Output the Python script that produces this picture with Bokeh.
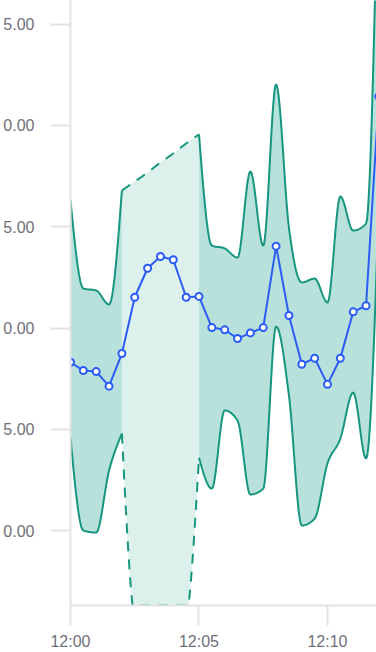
import numpy as np
from bokeh.plotting import figure
from bokeh.models import Range1d, FixedTicker
from bokeh.embed import file_html
from bokeh.resources import INLINE

# ---------------- data ----------------
times = ["12:00:00", "12:00:30", "12:01:00", "12:01:30", "12:02:00", "12:02:30",
         "12:03:00", "12:03:30", "12:04:00", "12:04:30", "12:05:00", "12:05:30",
         "12:06:00", "12:06:30", "12:07:00", "12:07:30", "12:08:00", "12:08:30",
         "12:09:00", "12:09:30", "12:10:00", "12:10:30", "12:11:00", "12:11:30",
         "12:12:00"]

mean = [18.31, 17.90, 17.85, 17.13, 18.74, 21.52, 22.95, 23.53, 23.37, 21.52,
        21.56, 20.02, 19.91, 19.48, 19.76, 20.02, 24.04, 20.62, 18.21, 18.51,
        17.22, 18.51, 20.80, 21.10, 31.43]

upper = [26.30, 21.95, 21.85, 21.16, 26.79, None, None, None, None, None,
         29.56, 24.07, 23.93, 23.48, 27.73, 24.07, 32.02, 24.95, 22.25, 22.44,
         21.26, 26.49, 24.81, 25.16, 45.00]

lower = [14.59, 10.00, 9.90, 12.96, 14.79, None, None, None, None, None,
         13.60, 12.07, 15.93, 15.43, 11.78, 12.07, 20.07, 16.67, 10.25, 10.59,
         13.31, 14.54, 16.81, 13.56, 26.30]

# interpolated (dashed) band over the gap, 12:02:00 .. 12:05:00
gap_times = ["12:02:00", "12:02:30", "12:03:00", "12:03:30", "12:04:00", "12:04:30", "12:05:00"]
gap_upper = [26.79, 27.23, 27.68, 28.17, 28.62, 29.11, 29.56]
gap_lower = [14.79, 5.50, 4.00, 3.50, 4.00, 5.50, 13.60]

y_ticks = [10, 15, 20, 25, 30, 35]
y_tick_labels = ["0.00", "5.00", "0.00", "5.00", "0.00", "5.00"]
x_ticks = [0, 5, 10]
x_tick_labels = ["12:00", "12:05", "12:10"]

Y_MIN, Y_MAX = 6.30, 36.17
X_MIN, X_MAX = 0.0, 11.907

# ---------------- helpers ----------------
def to_min(t):
    h, m, s = (int(v) for v in t.split(":"))
    return (h - 12) * 60 + m + s / 60.0


def monotone(xs, ys, n=24):
    """Monotone cubic (like d3.curveMonotoneX) path through the given points."""
    xs = np.asarray(xs, float)
    ys = np.asarray(ys, float)
    k = len(xs)
    h = np.diff(xs)
    s = np.diff(ys) / h
    m = np.zeros(k)
    for i in range(1, k - 1):
        s0, s1 = s[i - 1], s[i]
        p = (s0 * h[i] + s1 * h[i - 1]) / (h[i - 1] + h[i])
        m[i] = (np.sign(s0) + np.sign(s1)) * min(abs(s0), abs(s1), 0.5 * abs(p))
    if k > 2:
        m[0] = (3 * s[0] - m[1]) / 2
        m[-1] = (3 * s[-1] - m[-2]) / 2
    else:
        m[0] = m[-1] = s[0]
    out_x, out_y = [], []
    for i in range(k - 1):
        tt = np.linspace(0, 1, n, endpoint=False)
        h00 = 2 * tt**3 - 3 * tt**2 + 1
        h10 = tt**3 - 2 * tt**2 + tt
        h01 = -2 * tt**3 + 3 * tt**2
        h11 = tt**3 - tt**2
        out_x.extend(xs[i] + tt * h[i])
        out_y.extend(h00 * ys[i] + h10 * h[i] * m[i] + h01 * ys[i + 1] + h11 * h[i] * m[i + 1])
    out_x.append(xs[-1])
    out_y.append(ys[-1])
    return np.array(out_x), np.array(out_y)


x_all = [to_min(t) for t in times]
x_gap = [to_min(t) for t in gap_times]

# contiguous solid segments of the band
segments = []
cur = []
for i, (u, l) in enumerate(zip(upper, lower)):
    if u is None or l is None:
        if len(cur) > 1:
            segments.append(cur)
        cur = []
    else:
        cur.append(i)
if len(cur) > 1:
    segments.append(cur)

# ---------------- styles ----------------
TEAL = "#17967f"
DARK_FILL = "#b9e1dc"
LIGHT_FILL = "#dcf1ec"
BLUE = "#2b5cf6"
AXIS = "#e3e3e3"
LABEL = "#6e7079"
FONT = "Liberation Sans"

p = figure(width=376, height=652, output_backend="svg", toolbar_location=None,
           x_range=Range1d(X_MIN, X_MAX), y_range=Range1d(Y_MIN, Y_MAX),
           min_border_left=0, min_border_right=0, min_border_top=0, min_border_bottom=47)
p.outline_line_color = None
p.grid.visible = False
p.background_fill_color = "white"
p.border_fill_color = "white"

# light (gap) band
gx, gu = monotone(x_gap, gap_upper)
_, gl = monotone(x_gap, gap_lower)
gl = np.maximum(gl, Y_MIN)
p.varea(x=gx, y1=gl, y2=gu, fill_color=LIGHT_FILL, fill_alpha=1.0)

# dark (solid) band segments
for seg in segments:
    sx = [x_all[i] for i in seg]
    bx, bu = monotone(sx, [upper[i] for i in seg])
    _, bl = monotone(sx, [lower[i] for i in seg])
    p.varea(x=bx, y1=bl, y2=bu, fill_color=DARK_FILL, fill_alpha=1.0)
    p.line(bx, bu, line_color=TEAL, line_width=2)
    p.line(bx, bl, line_color=TEAL, line_width=2)

p.line(gx, gu, line_color=TEAL, line_width=2, line_dash="10 8")
p.line(gx, gl, line_color=TEAL, line_width=2, line_dash="10 8")

# mean line with markers
p.line(x_all, mean, line_color=BLUE, line_width=2)
p.scatter(x_all, mean, size=7, fill_color="white", line_color=BLUE, line_width=2)

# axes
for ax in (p.xaxis[0], p.yaxis[0]):
    ax.axis_line_color = AXIS
    ax.axis_line_width = 2
    ax.major_tick_line_color = AXIS
    ax.major_tick_line_width = 2
    ax.major_tick_out = 20
    ax.major_tick_in = 0
    ax.minor_tick_line_color = None
    ax.major_label_text_font = FONT
    ax.major_label_text_font_size = "16px"
    ax.major_label_text_color = LABEL

p.yaxis.ticker = FixedTicker(ticks=y_ticks)
p.yaxis.major_label_overrides = {t: lab for t, lab in zip(y_ticks, y_tick_labels)}
p.yaxis.major_label_standoff = 16

p.xaxis.ticker = FixedTicker(ticks=x_ticks)
p.xaxis.major_label_overrides = {t: lab for t, lab in zip(x_ticks, x_tick_labels)}
p.xaxis.major_label_standoff = 7

open("out.html", "w").write(file_html(p, INLINE))
